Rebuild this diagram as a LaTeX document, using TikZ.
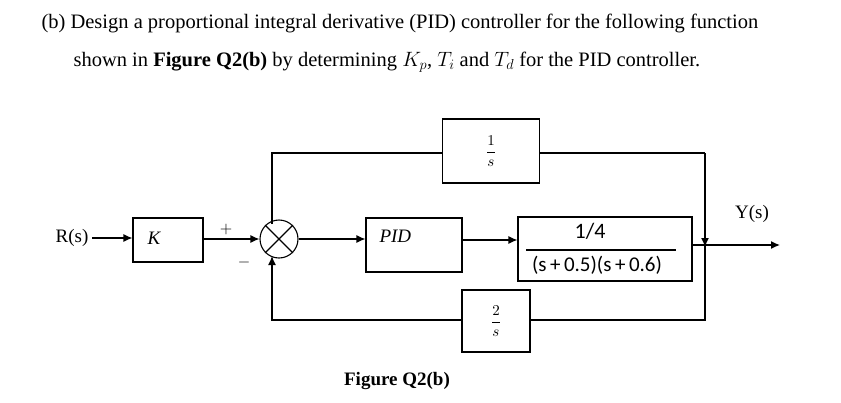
\documentclass[tikz,border=0pt]{standalone}
\usepackage{amsmath}
\usepackage{fontspec}
\setmainfont{Liberation Serif}
\newfontfamily\calib{Carlito}
\usetikzlibrary{arrows.meta}
\begin{document}
\begin{tikzpicture}[x=1pt,y=-1pt,
  blk/.style={draw,line width=1.1pt,inner sep=0pt},
  ln/.style={line width=1.3pt},
  ar/.style={ln,-{Latex[length=9pt,width=8pt]}},
  lbl/.style={font=\fontsize{19}{22}\selectfont}]
\useasboundingbox (0,0) rectangle (841,402);
\node[anchor=west,font=\fontsize{20.5}{24}\selectfont] (t1) at (38,23) {(b) Design a proportional integral derivative (PID) controller for the following function};
\node[anchor=west,font=\fontsize{20.5}{24}\selectfont] (t2) at (70,62) {shown in \textbf{Figure Q2(b)} by determining $K_p$, $T_i$ and $T_d$ for the PID controller.};
\node[blk,minimum width=70pt,minimum height=44pt] (K) at (168,240) {};
\node[lbl,font=\fontsize{19}{22}\selectfont\itshape,anchor=west] (Kl) at (144,238) {K};
\node[draw,line width=1.1pt,circle,minimum size=38pt,inner sep=0pt] (S) at (279,239) {};
\draw[line width=1.1pt] (S.north west)--(S.south east) (S.north east)--(S.south west);
\node[blk,minimum width=96pt,minimum height=54pt] (P) at (414,245) {};
\node[font=\fontsize{19}{22}\selectfont\itshape,anchor=west] (Pl) at (376,236) {PID};
\node[blk,minimum width=174pt,minimum height=64pt] (G) at (605,249) {};
\node[font=\calib\fontsize{22}{24}\selectfont] (Gn) at (590,231) {1/4};
\draw[line width=1.1pt] (526,250)--(676,250);
\node[font=\calib\fontsize{21}{24}\selectfont] (Gd) at (597,265) {(s\,+\,0.5)(s\,+\,0.6)};
\node[blk,minimum width=97pt,minimum height=64pt] (H1) at (491,151) {};
\node[scale=1.5] (H1t) at (491,151) {$\dfrac{1}{s}$};
\node[blk,minimum width=68pt,minimum height=62pt] (H2) at (496,321) {};
\node[scale=1.5] (H2t) at (496,321) {$\dfrac{2}{s}$};
\node[lbl,anchor=east] (R) at (92,238) {R(s)};
\node[lbl] (Y) at (752,214) {Y(s)};
\node[scale=1.6] (pl) at (226,229) {$+$};
\node[scale=1.6] (mi) at (244,262) {$-$};
\node[font=\fontsize{19}{22}\selectfont\bfseries] (cap) at (397,381) {Figure Q2(b)};
\coordinate (tp) at (705,153);
\coordinate (bt) at (705,320);
\coordinate (out) at (780,245);
\draw[ar] (R.east) -- (K.west |- R.east);
\draw[ar] (K.east |- S.west) -- (S.west);
\draw[ar] (S.east) -- (P.west |- S.east);
\draw[ar] (P.east |- 0,240) -- (G.west |- 0,240);
\draw[ln] (272,224) |- (H1.west |- tp) (H1.east |- tp) -- (tp);
\draw[ar] (tp) -- (705,247);
\draw[ln] (705,240) -- (bt) -- (H2.east |- bt) (H2.west |- bt) -| (272,300);
\draw[ar] (272,300) -- (272,256);
\draw[ar] (G.east |- out) -- (out);
\end{tikzpicture}
\end{document}
